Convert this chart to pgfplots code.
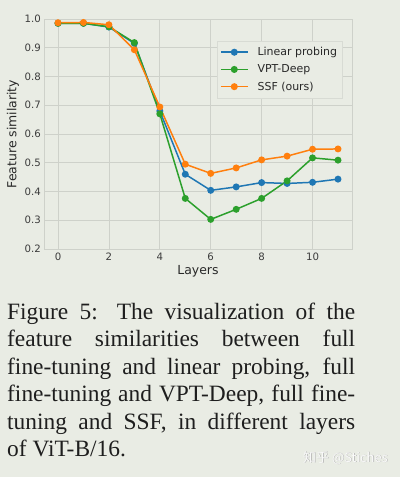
\documentclass[border=0pt]{standalone}
\usepackage{pgfplots}
\pgfplotsset{compat=1.18}
\usepackage{fontspec}
\setmainfont{Liberation Serif}
\newfontfamily\plotfont{DejaVu Sans}
\newfontfamily\cjk{Noto Sans CJK SC}

\definecolor{bg}{RGB}{233,236,228}
\definecolor{gridc}{RGB}{206,209,202}
\definecolor{legc}{RGB}{216,219,212}
\definecolor{tickc}{RGB}{60,60,60}
\definecolor{labelc}{RGB}{40,40,40}
\definecolor{captc}{RGB}{30,30,30}
\definecolor{tabblue}{HTML}{1F77B4}
\definecolor{tabgreen}{HTML}{2CA02C}
\definecolor{taborange}{HTML}{FF7F0E}

\begin{document}
\begin{tikzpicture}
\fill[bg] (0,0) rectangle (400bp,477bp);
\useasboundingbox (0,0) rectangle (400bp,477bp);
\begin{axis}[
    at={(44bp,228bp)}, anchor=south west,
    scale only axis, width=308bp, height=230bp,
    xmin=-0.55, xmax=11.55, ymin=0.2, ymax=1.0,
    xtick={0,2,4,6,8,10},
    ytick={0.2,0.3,0.4,0.5,0.6,0.7,0.8,0.9,1.0},
    grid=major,
    major grid style={gridc, line width=0.8pt},
    axis line style={gridc, line width=0.8pt},
    major tick length=0pt,
    axis background/.style={fill=bg},
    /pgf/number format/assume math mode=true,
    ticklabel style={font=\plotfont\fontsize{10.2}{12}\selectfont, text=tickc, inner sep=1.5pt},
    yticklabel style={xshift=-1.5bp, /pgf/number format/.cd, fixed, fixed zerofill, precision=1},
    xticklabel style={yshift=-2bp},
    xlabel={Layers}, ylabel={Feature similarity},
    label style={font=\plotfont\fontsize{12.5}{14}\selectfont, text=labelc},
    xlabel style={at={(axis description cs:0.5,-0.096)}, anchor=center},
    ylabel style={at={(axis description cs:-0.101,0.5)}, anchor=center},
    legend style={at={(0.968,0.906)}, anchor=north east, draw=legc, fill=bg,
        font=\plotfont\fontsize{11}{13}\selectfont, text=labelc,
        inner xsep=3bp, inner ysep=4.5bp, row sep=3.6bp,
        cells={anchor=west},
        /tikz/every odd column/.append style={column sep=7bp}},
    legend image code/.code={\draw[mark repeat=2, mark phase=2, line width=1.6pt]
        plot coordinates {(0bp,0bp) (13.5bp,0bp) (27bp,0bp)};},
    every axis plot/.append style={line width=1.5pt, mark=*, mark size=2.7pt, mark options={solid}},
]
\addplot[tabblue] coordinates {
    (0,0.985) (1,0.985) (2,0.972) (3,0.915) (4,0.680) (5,0.460)
    (6,0.404) (7,0.416) (8,0.431) (9,0.428) (10,0.432) (11,0.443)
};
\addlegendentry{Linear probing}
\addplot[tabgreen] coordinates {
    (0,0.985) (1,0.985) (2,0.973) (3,0.918) (4,0.670) (5,0.376)
    (6,0.303) (7,0.338) (8,0.376) (9,0.437) (10,0.517) (11,0.509)
};
\addlegendentry{VPT-Deep}
\addplot[taborange] coordinates {
    (0,0.987) (1,0.988) (2,0.980) (3,0.893) (4,0.694) (5,0.495)
    (6,0.463) (7,0.482) (8,0.510) (9,0.523) (10,0.547) (11,0.548)
};
\addlegendentry{SSF (ours)}
\end{axis}

% caption: one node per line, spaces stretched to the column width
\tikzset{capline/.style={anchor=base west, inner sep=0pt, text=captc,
    font=\fontsize{23.5}{27.5}\selectfont}}
\node[capline] at (7bp,157.7bp) {\makebox[348bp][s]{Figure 5: The visualization of the}};
\node[capline] at (7bp,130.2bp) {\makebox[348bp][s]{feature similarities between full}};
\node[capline] at (7bp,102.7bp) {\makebox[348bp][s]{fine-tuning and linear probing, full}};
\node[capline] at (7bp,75.2bp)  {\makebox[348bp][s]{fine-tuning and VPT-Deep, full fine-}};
\node[capline] at (7bp,47.7bp)  {\makebox[348bp][s]{tuning and SSF, in different layers}};
\node[capline] at (7bp,20.2bp)  {of ViT-B/16.};

\node[anchor=base east, inner sep=0pt, text=gray!60, font=\cjk\fontsize{13}{13}\selectfont]
  at (388.6bp,14.4bp) {知乎 @Stiches};
\node[anchor=base east, inner sep=0pt, text=white!96!gray, font=\cjk\fontsize{13}{13}\selectfont]
  at (388bp,15bp) {知乎 @Stiches};
\end{tikzpicture}
\end{document}
